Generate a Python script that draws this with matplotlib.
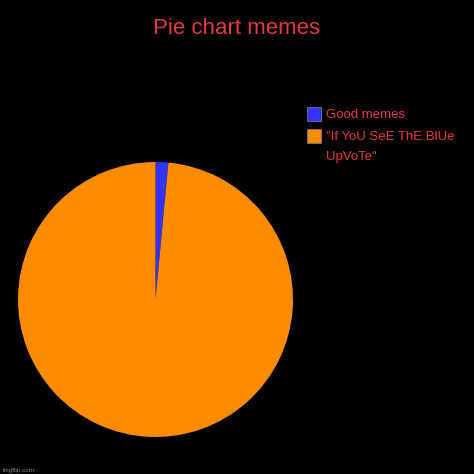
import matplotlib.pyplot as plt
from matplotlib.patches import Rectangle

plt.rcParams['font.family'] = ['Liberation Sans', 'DejaVu Sans']

# datos del grafico
labels = ['Good memes', '"If YoU SeE ThE BlUe\nUpVoTe"']
values = [1.5, 98.5]
colors = ['#3333ff', '#ff8c00']
text_color = '#e8383c'

W = 474.0
fig = plt.figure(figsize=(4.74, 4.74), dpi=100, facecolor='black')
ax = fig.add_axes([18 / W, 37 / W, 275 / W, 275 / W])
ax.set_facecolor('black')

wedges, _ = ax.pie(values, colors=colors, startangle=90, counterclock=False)
ax.set_xlim(-1, 1)
ax.set_ylim(-1, 1)
ax.set_aspect('equal')
ax.axis('off')

fig.text(0.5, 1 - 18 / W, 'Pie chart memes', color=text_color, fontsize=16,
         ha='center', va='top')

# leyenda hecha a mano para alinear el cuadro con la primera linea
tops = [107, 129]
for top, lab, col in zip(tops, labels, colors):
    fig.add_artist(Rectangle((307 / W, 1 - (top + 14) / W), 14 / W, 14 / W,
                             facecolor=col, edgecolor='#777777', linewidth=0.6,
                             transform=fig.transFigure))
    fig.text(326 / W, 1 - (top + 2) / W, lab, color=text_color, fontsize=9.5,
             ha='left', va='top', linespacing=1.9)

fig.text(3 / W, 1 - 472 / W, 'imgflip.com', color='#888888', fontsize=4.6)

plt.savefig('out.png', dpi=100, facecolor='black')
